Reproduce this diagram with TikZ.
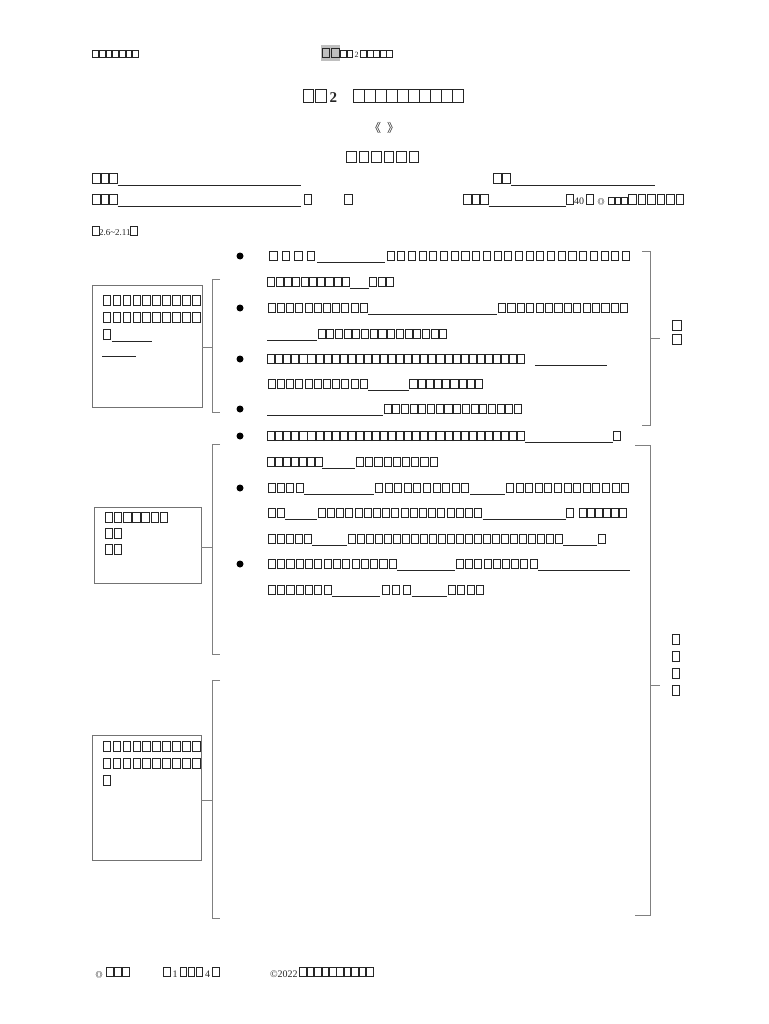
\documentclass[tikz,border=0pt]{standalone}
\usepackage{fontspec}
\setmainfont{Liberation Serif}
\newfontfamily\cjk{Noto Sans CJK SC}
\newlength\tfW \newlength\tfH \newlength\tfP
\newcount\tfc
\newcommand\Sz[3]{\setlength\tfW{#1pt}\setlength\tfH{#2pt}\setlength\tfP{#3pt}}
\newcommand\Pt[1]{\setlength\tfP{#1pt}}
\newcommand\tfbox{\hbox to\tfP{\hss\vrule width.6pt\vbox to\tfH{\hrule height.6pt width\tfW\vfil\hrule height.6pt}\vrule width.6pt\hss}}
\newcommand\Bx[1]{\tfc=#1\relax\loop\tfbox\advance\tfc-1\relax\ifnum\tfc>0\repeat}
\newcommand\Ln[1]{\rule[-1.5pt]{#1pt}{0.6pt}}
\tikzset{
  txt/.style={anchor=base west,inner sep=0,outer sep=0,text=black!85,font=\fontsize{10}{12}\selectfont},
  frame/.style={draw=black!55,line width=0.8pt},
  brk/.style={draw=black!50,line width=0.8pt},
  dot/.style={fill=black,circle,inner sep=0,minimum size=7pt}
}
\begin{document}
\begin{tikzpicture}[x=1pt,y=-1pt]
\useasboundingbox[fill=white] (0,0) rectangle (768,1024);
% header
\node[txt] (h1) at (92,58) {\Sz{5}{8}{6.7}\Bx{7}};
\fill[black!25] (321,45) rectangle (340,61);
\node[txt] (h2) at (321,58) {\Sz{7}{10}{9.5}\Bx{2}\Sz{5}{8}{6.5}\Bx{2}\,{\fontsize{8}{9}\selectfont 2}\,\Bx{5}};
\node[txt] (t1) at (302,103) {\Sz{10}{14}{12.5}\Bx{2}{\fontsize{15}{16}\selectfont\bfseries\,2}\hspace{16pt}\Pt{11}\Bx{10}};
\node[txt,anchor=base] (t2) at (384,133) {\cjk\fontsize{12}{14}\selectfont 《\hspace{6pt}》};
\node[txt] (t3) at (345,163) {\Sz{9}{12}{12.5}\Bx{6}};
\node[txt] (r1a) at (92,184) {\Sz{7}{11}{8.5}\Bx{3}\Ln{183}};
\node[txt] (r1b) at (493,184) {\Sz{7}{11}{9}\Bx{2}\Ln{144}};
\node[txt] (r2a) at (92,205) {\Sz{7}{11}{8.5}\Bx{3}\Ln{183}\hspace{3pt}\Bx{1}\hspace{32pt}\Bx{1}};
\node[txt] (r2b) at (463,205) {\Sz{7}{11}{8.5}\Bx{3}\Ln{77}\Bx{1}40\,\Bx{1}{\cjk\fontsize{7}{8}\selectfont 《》}\Sz{5}{8}{6.5}\Bx{3}\Sz{7}{11}{9.5}\Bx{6}};
\node[txt] (r3) at (92,236) {\Sz{6}{10}{7}\Bx{1}{\fontsize{9}{10}\selectfont 2.6\textasciitilde2.11}\Bx{1}};
% left boxes
\draw[frame] (92,285) rectangle (202,407);
\node[txt] (b1a) at (102,306) {\Sz{7}{11}{9.9}\Bx{10}};
\node[txt] (b1b) at (102,323) {\Sz{7}{11}{9.9}\Bx{10}};
\node[txt] (b1c) at (102,340) {\Sz{7}{11}{9.9}\Bx{1}\Ln{40}};
\node[txt] (b1d) at (102,355) {\Ln{34}};
\draw[frame] (94,507) rectangle (201,583);
\node[txt] (b2a) at (104,523) {\Sz{7}{11}{9.2}\Bx{7}};
\node[txt] (b2b) at (104,539) {\Sz{7}{11}{9.2}\Bx{2}};
\node[txt] (b2c) at (104,555) {\Sz{7}{11}{9.2}\Bx{2}};
\draw[frame] (92,735) rectangle (201,860);
\node[txt] (b3a) at (102,752) {\Sz{7}{11}{9.9}\Bx{10}};
\node[txt] (b3b) at (102,769) {\Sz{7}{11}{9.9}\Bx{10}};
\node[txt] (b3c) at (102,786) {\Sz{7}{11}{9.9}\Bx{1}};
% left brackets
\draw[brk] (220,279) -- (212,279) -- (212,412) -- (220,412);
\draw[brk] (202,347) -- (212,347);
\draw[brk] (220,444) -- (212,444) -- (212,654) -- (220,654);
\draw[brk] (201,547) -- (212,547);
\draw[brk] (220,680) -- (212,680) -- (212,918) -- (220,918);
\draw[brk] (201,800) -- (212,800);
% right brackets
\draw[brk] (642,251) -- (650,251) -- (650,425) -- (642,425);
\draw[brk] (650,338) -- (660,338);
\node[txt] (rl1) at (672,331) {\Sz{8}{11}{9}\Bx{1}};
\node[txt] (rl2) at (672,345) {\Sz{8}{11}{9}\Bx{1}};
\draw[brk] (635,445) -- (650,445) -- (650,915) -- (635,915);
\draw[brk] (650,685) -- (660,685);
\foreach \yy [count=\k] in {645,662,679,696}
  \node[txt] (rv\k) at (672,\yy) {\Sz{6}{11}{8}\Bx{1}};
% bullets
\foreach \yy [count=\k] in {256,308,359,409,436,488,564}
  \node[dot] (bul\k) at (240,\yy) {};
% body text
\Sz{6.5}{10}{8.6}
\node[txt] (l1) at (267,261) {\Sz{6.5}{10}{12.5}\Bx{4}\Ln{68}\Pt{10.7}\Bx{23}};
\node[txt] (l2) at (267,287) {\Sz{6.5}{10}{8.3}\Bx{10}\Ln{19}\Bx{3}};
\node[txt] (l3) at (267,313) {\Sz{6.5}{10}{9.2}\Bx{11}\Ln{129}\Pt{9.4}\Bx{14}};
\node[txt] (l4) at (267,339) {\Sz{6.5}{10}{8.7}\Ln{50}\Bx{15}};
\node[txt] (l5) at (267,364) {\Sz{6.5}{10}{8.06}\Bx{32}\hspace{10pt}\Ln{72}};
\node[txt] (l6) at (267,389) {\Sz{6.5}{10}{9.2}\Bx{11}\Ln{41}\Pt{8.2}\Bx{9}};
\node[txt] (l7) at (267,414) {\Sz{6.5}{10}{8.7}\Ln{116}\Bx{16}};
\node[txt] (l8) at (267,441) {\Sz{6.5}{10}{8.06}\Bx{32}\Ln{88}\Bx{1}};
\node[txt] (l9) at (267,467) {\Sz{6.5}{10}{7.9}\Bx{7}\Ln{33}\Pt{9.2}\Bx{9}};
\node[txt] (l10) at (267,493) {\Sz{6.5}{10}{9.25}\Bx{4}\Ln{70}\Pt{9.6}\Bx{10}\Ln{35}\Bx{13}};
\node[txt] (l11) at (267,518) {\Sz{6.5}{10}{9}\Bx{2}\Ln{32}\Pt{9.2}\Bx{18}\Ln{83}\Bx{1}\hspace{4pt}\Pt{8}\Bx{6}};
\node[txt] (l12) at (267,544) {\Sz{6.5}{10}{9}\Bx{5}\Ln{35}\Bx{24}\Ln{34}\Bx{1}};
\node[txt] (l13) at (267,569) {\Sz{6.5}{10}{9.3}\Bx{14}\Ln{58}\Pt{9.2}\Bx{9}\Ln{92}};
\node[txt] (l14) at (267,595) {\Sz{6.5}{10}{9.3}\Bx{7}\Ln{48}\Pt{10.5}\Bx{3}\Ln{35}\Pt{9.5}\Bx{4}};
% footer
\node[txt] (f1) at (92,977) {{\cjk\fontsize{7}{8}\selectfont 《》}\Sz{6}{10}{8}\Bx{3}};
\node[txt] (f2) at (163,977) {\Sz{6}{10}{8}\Bx{1}\,{\fontsize{10}{12}\selectfont 1}\,\Bx{3}\,{\fontsize{10}{12}\selectfont 4}\,\Bx{1}};
\node[txt] (f3) at (270,977) {{\fontsize{10}{12}\selectfont ©2022}\,\Sz{6}{10}{7.4}\Bx{10}};
\end{tikzpicture}
\end{document}
